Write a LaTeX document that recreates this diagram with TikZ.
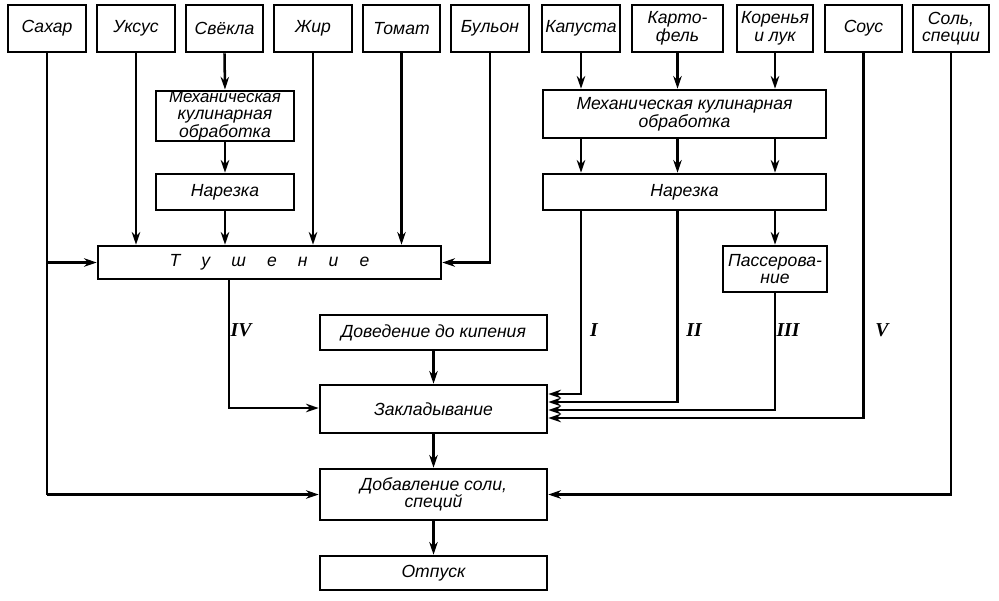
\documentclass[tikz,border=0pt]{standalone}
\usepackage{fontspec}
\setmainfont{Liberation Sans}
\newfontfamily\romfont{Liberation Serif}
\usetikzlibrary{arrows.meta}
\newcommand\bx[6]{\node[box,minimum width={(#4-#2)*0.025cm},minimum height={(#5-#3)*0.025cm}] (#1) at ({(#2+#4)/2},{(#3+#5)/2}) {#6};}
\begin{document}
\begin{tikzpicture}[x=0.025cm,y=-0.025cm,
  box/.style={draw,line width=1.8pt,inner sep=0pt,align=center,
    font=\fontsize{12.5}{12.5}\selectfont\itshape},
  conn/.style={line width=1.8pt},
  arr/.style={conn,-{Stealth[length=9pt,width=6pt]}},
  rom/.style={font=\fontsize{14}{14}\selectfont\romfont\itshape\bfseries}]
\useasboundingbox[fill=white] (0,0) rectangle (999,600);
% top row
\bx{sahar}{8}{5}{86}{52}{Сахар}
\bx{uksus}{97}{5}{175}{52}{Уксус}
\bx{svekla}{186}{5}{263}{52}{Свёкла}
\bx{zhir}{274}{5}{352}{52}{Жир}
\bx{tomat}{363}{5}{440}{52}{Томат}
\bx{bulon}{451}{5}{529}{52}{Бульон}
\bx{kapusta}{542}{5}{620}{52}{Капуста}
\bx{kartofel}{632}{5}{723}{52}{Карто-\\фель}
\bx{korenya}{737}{5}{813}{52}{Коренья\\и лук}
\bx{sous}{825}{5}{902}{52}{Соус}
\bx{sol}{913}{5}{989}{52}{Соль,\\специи}
% left branch
\bx{mehL}{156}{91}{294}{141}{\fontsize{12}{10.5}\selectfont Механическая\\кулинарная\\обработка}
\bx{narL}{156}{174}{294}{210}{Нарезка}
\bx{tush}{98}{246}{441}{279}{Т\hspace{1.2em}у\hspace{1.2em}ш\hspace{1.2em}е\hspace{1.2em}н\hspace{1.2em}и\hspace{1.2em}е}
% right branch
\bx{mehR}{543}{90}{826}{138}{\fontsize{12.5}{11}\selectfont Механическая кулинарная\\обработка}
\bx{narR}{543}{174}{826}{210}{Нарезка}
\bx{pass}{723}{246}{827}{292}{\fontsize{12.5}{11.5}\selectfont Пассерова-\\ние}
% bottom column
\bx{dov}{320}{315}{547}{350}{Доведение до кипения}
\bx{zakl}{320}{385}{547}{433}{Закладывание}
\bx{dob}{320}{469}{547}{520}{Добавление соли,\\специй}
\bx{otp}{320}{556}{547}{590}{Отпуск}
% helper coordinates
\coordinate (ivtop) at (229,279);
\coordinate (ivbot) at (229,408);
% left connectors
\draw[arr] (uksus.south) -- (uksus.south |- tush.north);
\draw[arr] (svekla.south) -- (mehL.north);
\draw[arr] (mehL.south) -- (narL.north);
\draw[arr] (narL.south) -- (narL.south |- tush.north);
\draw[arr] (zhir.south) -- (zhir.south |- tush.north);
\draw[arr] (tomat.south) -- (tomat.south |- tush.north);
\draw[arr] (bulon.south) |- (tush.east);
\draw[conn] (sahar.south) -- (sahar.south |- dob.west);
\draw[arr] (sahar.south |- tush.west) -- (tush.west);
\draw[arr] (sahar.south |- dob.west) -- (dob.west);
\draw[arr] (ivtop) -- (ivbot) -- (zakl.west |- ivbot);
% right connectors
\draw[arr] (kapusta.south) -- (kapusta.south |- mehR.north);
\draw[arr] (kartofel.south) -- (kartofel.south |- mehR.north);
\draw[arr] (korenya.south) -- (korenya.south |- mehR.north);
\draw[arr] (kapusta.south |- mehR.south) -- (kapusta.south |- narR.north);
\draw[arr] (kartofel.south |- mehR.south) -- (kartofel.south |- narR.north);
\draw[arr] (korenya.south |- mehR.south) -- (korenya.south |- narR.north);
\draw[arr] (pass.north |- narR.south) -- (pass.north);
\coordinate (iY) at (0,394);
\coordinate (iiY) at (0,402);
\coordinate (iiiY) at (0,410);
\coordinate (vY) at (0,418);
\draw[arr] (kapusta.south |- narR.south) |- (zakl.east |- iY);
\draw[arr] (kartofel.south |- narR.south) |- (zakl.east |- iiY);
\draw[arr] (pass.south) |- (zakl.east |- iiiY);
\draw[arr] (sous.south) |- (zakl.east |- vY);
\draw[arr] (sol.south) |- (dob.east);
% centre column
\draw[arr] (dov.south) -- (zakl.north);
\draw[arr] (zakl.south) -- (dob.north);
\draw[arr] (dob.south) -- (otp.north);
% roman labels
\node[rom] (lIV) at (241,330) {IV};
\node[rom] (lI) at (594,330) {I};
\node[rom] (lII) at (694,330) {II};
\node[rom] (lIII) at (788,330) {III};
\node[rom] (lV) at (882,330) {V};
\end{tikzpicture}
\end{document}
